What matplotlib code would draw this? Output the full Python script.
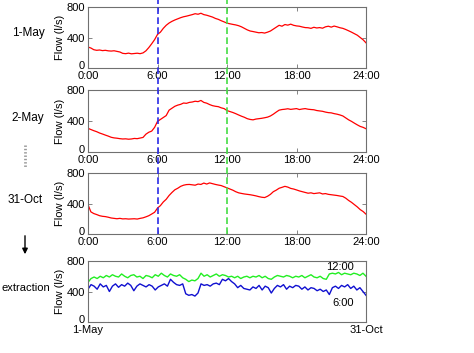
import numpy as np
import matplotlib
matplotlib.use("Agg")
import matplotlib.pyplot as plt
from matplotlib.lines import Line2D
from matplotlib.patches import FancyArrowPatch
from matplotlib.transforms import blended_transform_factory, ScaledTranslation

plt.rcParams['font.family'] = ['Liberation Sans', 'DejaVu Sans']
plt.rcParams['font.size'] = 8

# ---- data (15-minute flow values, l/s) ----
day_labels = ["1-May", "2-May", "31-Oct"]
time_ticks = [0, 6, 12, 18, 24]
time_tick_labels = ["0:00", "6:00", "12:00", "18:00", "24:00"]
flow_ticks = [0, 400, 800]

flow_1may = [
    275, 262, 240, 232, 236, 228, 232, 225, 222, 226, 218, 210,
    192, 188, 195, 186, 190, 194, 188, 198, 225, 268, 318, 372,
    440, 470, 520, 560, 590, 612, 630, 645, 660, 672, 680, 690,
    700, 712, 705, 718, 700, 692, 680, 668, 650, 638, 620, 605,
    588, 580, 572, 565, 555, 540, 520, 500, 485, 478, 470, 462,
    465, 458, 470, 485, 510, 535, 560, 548, 570, 562, 575, 560,
    552, 548, 538, 530, 528, 520, 534, 525, 530, 522, 540, 548,
    536, 550, 540, 528, 520, 505, 488, 470, 450, 430, 400, 370,
    330]

flow_2may = [
    305, 290, 275, 262, 245, 232, 218, 205, 190, 182, 178, 172,
    168, 170, 165, 168, 175, 172, 180, 188, 230, 255, 270, 318,
    395, 420, 445, 470, 540, 565, 590, 605, 615, 632, 628, 640,
    645, 655, 650, 665, 640, 630, 612, 598, 590, 585, 570, 560,
    535, 522, 510, 495, 478, 462, 448, 430, 420, 415, 425, 430,
    435, 442, 450, 465, 488, 515, 540, 548, 552, 558, 550, 555,
    560, 548, 555, 560, 552, 548, 545, 535, 530, 525, 515, 508,
    505, 495, 488, 478, 465, 440, 415, 395, 372, 350, 330, 318,
    300]

flow_31oct = [
    385, 290, 268, 255, 240, 232, 228, 220, 210, 205, 200, 205,
    198, 200, 196, 198, 200, 196, 205, 212, 225, 240, 262, 285,
    340, 372, 420, 455, 505, 545, 580, 600, 625, 640, 648, 650,
    645, 640, 655, 650, 668, 655, 670, 660, 650, 642, 635, 620,
    605, 590, 575, 555, 540, 532, 525, 520, 515, 508, 500, 490,
    482, 478, 495, 520, 555, 575, 600, 612, 625, 615, 598, 590,
    578, 565, 555, 545, 535, 540, 530, 535, 540, 525, 530, 520,
    515, 510, 505, 498, 492, 470, 440, 415, 385, 355, 320, 295,
    260]

# extraction: flow at 6:00 and 12:00 every second day, 1-May .. 31-Oct
extract_6h = [
    430, 490, 470, 430, 500,
    460, 480, 400, 470, 500, 455, 490, 470, 510, 480, 410,
    470, 500, 480, 460, 490, 470, 420, 460, 480, 500, 470,
    560, 520, 490, 480, 500,
    370, 350, 360, 340, 380,
    500, 480, 490, 470, 500, 510, 490, 560, 540, 570,
    530, 500, 450, 480, 440, 430, 420,
    460, 440, 480, 420, 470, 450, 380, 440,
    480, 460, 490, 430, 470, 450, 480,
    470, 430, 460, 420, 450, 440, 410, 430, 400, 420,
    360,
    450, 470, 440, 480, 460, 490, 440, 470, 420, 450, 400, 350]

extract_12h = [
    520, 570, 590, 570, 600,
    580, 610, 590, 620, 600, 590, 630, 600, 580, 610, 620,
    590, 600, 570, 610, 600, 580, 620, 600, 640, 610, 590,
    630, 610, 600, 620, 580,
    560, 530, 550, 540, 570,
    640, 600, 620, 590, 610, 630, 600, 620, 610, 590,
    600, 580, 600, 570, 590, 600, 580,
    600, 590, 610, 580, 600, 570, 560, 590,
    610, 600, 590, 610, 600, 580, 600,
    590, 610, 580, 600, 620, 590, 580, 600, 570, 560,
    630,
    640, 630, 650, 620, 640, 630, 620, 640, 630, 610, 640, 600]
extract_tick_labels = ["1-May", "31-Oct"]

# ---- figure ----
W, H = 474, 353
fig = plt.figure(figsize=(W / 100, H / 100), dpi=100)

def rect(top, bottom, left=88, right=366):
    return [left / W, 1 - bottom / H, (right - left) / W, (bottom - top) / H]

spine_col = "#707070"

def style(ax):
    for s in ax.spines.values():
        s.set_color(spine_col)
        s.set_linewidth(0.8)
    ax.tick_params(direction="in", length=3, width=0.6, color=spine_col,
                   top=True, right=True, labelsize=8, pad=2)
    ax.set_ylim(0, 800)
    ax.set_yticks(flow_ticks)
    ax.set_ylabel("Flow (l/s)", fontsize=8, labelpad=1)

def lift_zero_label(ax):
    lab = ax.get_yticklabels()[0]
    lab.set_transform(lab.get_transform() +
                      ScaledTranslation(0, 2.5 / 72, fig.dpi_scale_trans))

day_series = [flow_1may, flow_2may, flow_31oct]
tops_bottoms = [(7, 68), (90, 152), (173, 234)]
axes = []
for series, (t, b) in zip(day_series, tops_bottoms):
    ax = fig.add_axes(rect(t, b))
    hours = np.arange(len(series)) * 0.25
    ax.plot(hours, series, color="#ff0000", lw=0.9)
    ax.set_xlim(0, 24)
    ax.set_xticks(time_ticks)
    ax.set_xticklabels(time_tick_labels)
    style(ax)
    axes.append(ax)

# extraction panel
ax4 = fig.add_axes(rect(261, 322))
days = np.arange(len(extract_6h))
ax4.plot(days, extract_12h, color="#22ee22", lw=1.0)
ax4.plot(days, extract_6h, color="#1010d0", lw=1.0)
ax4.set_xlim(0, len(extract_6h) - 1)
ax4.set_xticks([0, len(extract_6h) - 1])
ax4.set_xticklabels(extract_tick_labels)
style(ax4)
ax4.text(0.955, 0.98, "12:00", transform=ax4.transAxes, ha="right", va="top", fontsize=8)
ax4.text(0.955, 0.39, "6:00", transform=ax4.transAxes, ha="right", va="top", fontsize=8)

fig.canvas.draw()
for ax in axes + [ax4]:
    lift_zero_label(ax)

# vertical extraction lines across the three day panels
tr = blended_transform_factory(axes[0].transData, fig.transFigure)
y_bot = 1 - 234 / H
for hx, col in [(6, "#2a2ae6"), (12, "#44dd44")]:
    ln = Line2D([hx, hx], [y_bot, 1.0], transform=tr, color=col, lw=1.2,
                linestyle=(0, (4, 2)), clip_on=False, zorder=5)
    fig.add_artist(ln)

# left-side labels
fig.text(28 / W, 1 - 33 / H, "1-May", ha="center", va="center", fontsize=8.5)
fig.text(28 / W, 1 - 118 / H, "2-May", ha="center", va="center", fontsize=8.5)
fig.text(25 / W, 1 - 200 / H, "31-Oct", ha="center", va="center", fontsize=8.5)
fig.text(1 / W, 1 - 288 / H, "extraction", ha="left", va="center", fontsize=8)
fig.add_artist(Line2D([25 / W, 25 / W], [1 - 145 / H, 1 - 167 / H],
                      transform=fig.transFigure, color="#999999", lw=2,
                      linestyle=(0, (0.5, 0.7))))
fig.add_artist(FancyArrowPatch(
    (25 / W, 1 - 233 / H), (25 / W, 1 - 257 / H), transform=fig.transFigure,
    arrowstyle="-|>", mutation_scale=8, color="black", lw=1.0))

fig.savefig("out.png", dpi=100)
